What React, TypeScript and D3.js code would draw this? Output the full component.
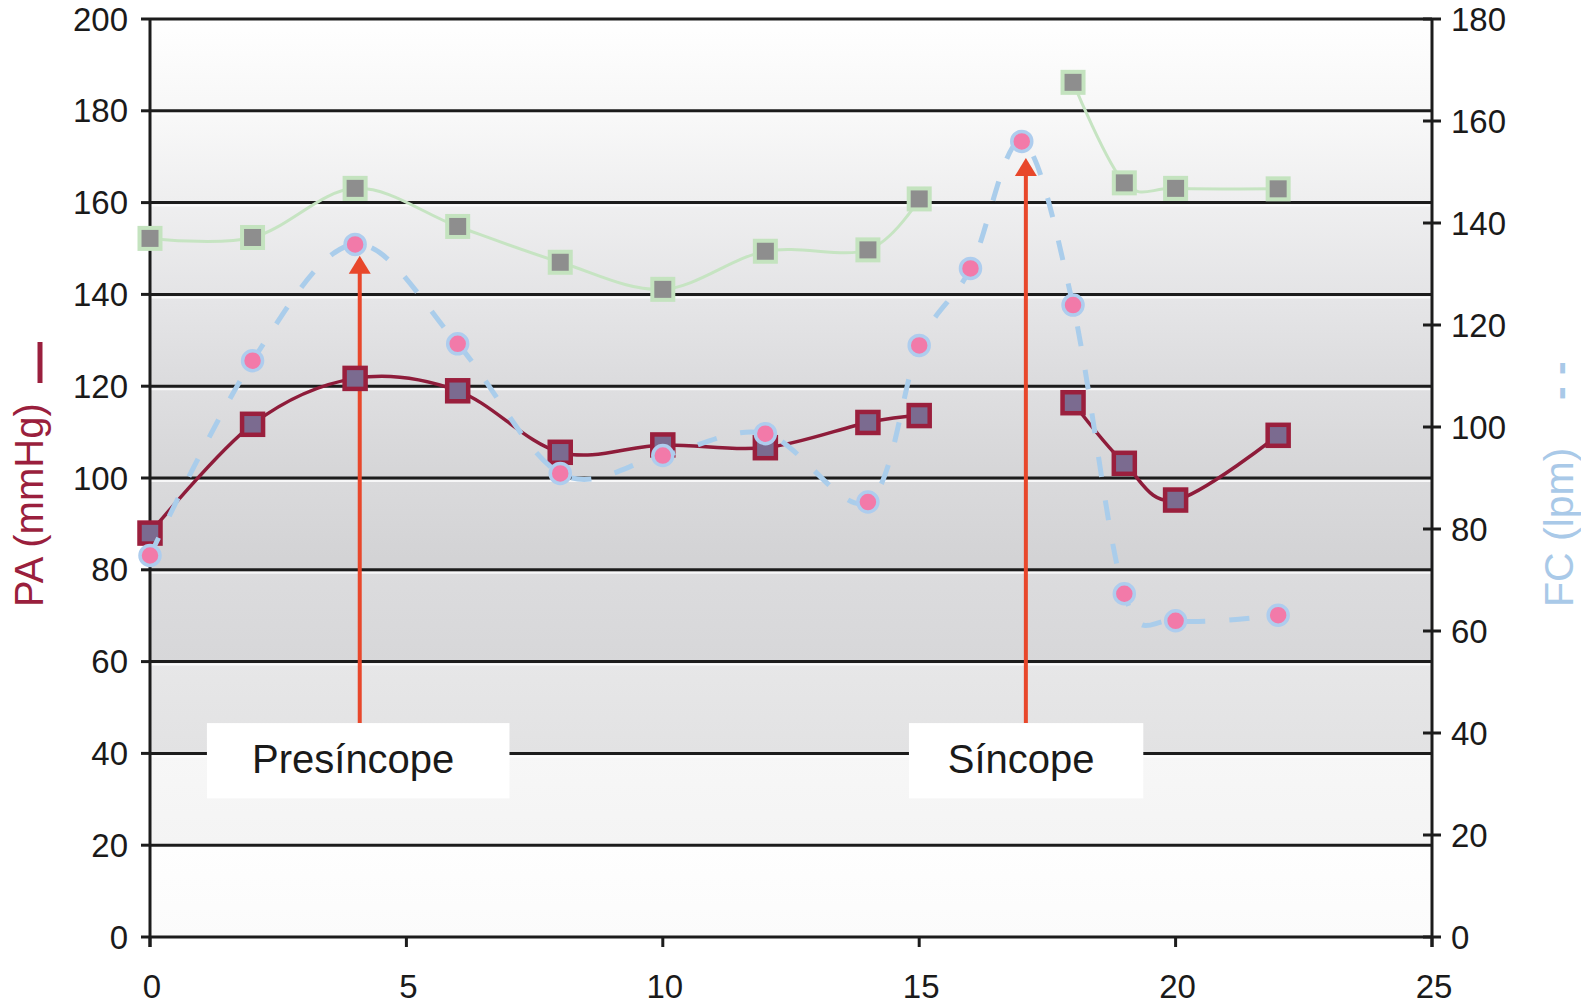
import * as d3 from "d3";

// tiempo (min) y series
const timePA = [0, 2, 4, 6, 8, 10, 12, 14, 15, 18, 19, 20, 22];
const paValues = [88, 111.7, 121.7, 119, 105.6, 107.2, 106.6, 112.1, 113.6, 116.4, 103.2, 95.2, 109.3];
const otherValues = [152.2, 152.4, 163.1, 154.8, 147, 141.1, 149.4, 149.7, 160.8, 186.2, 164.3, 163.1, 163];
const timeFC = [0, 2, 4, 6, 8, 10, 12, 14, 15, 16, 17, 18, 19, 20, 22];
const fcValues = [74.8, 113, 135.8, 116.3, 90.9, 94.4, 98.7, 85.3, 116, 131.1, 156, 123.9, 67.3, 62, 63.1];

const xTicks = [0, 5, 10, 15, 20, 25];
const leftTicks = [0, 20, 40, 60, 80, 100, 120, 140, 160, 180, 200];
const rightTicks = [0, 20, 40, 60, 80, 100, 120, 140, 160, 180];

// anotaciones: flecha en x, punta (valor PA), caja [x0, x1] y [y0, y1] en unidades de PA
const annotations = [
  { label: "Presíncope", x: 4.09, tip: 148.4, box: [1.11, 7.01], boxY: [46.6, 30.2] },
  { label: "Síncope", x: 17.08, tip: 169.7, box: [14.8, 19.37], boxY: [46.6, 30.2] },
];

// gris de cada franja (arriba, abajo), desde 200 hacia 0
const bandColors = [
  ["#ffffff", "#f7f7f7"],
  ["#f9f9f9", "#eeeeef"],
  ["#efeff0", "#e4e4e6"],
  ["#e6e6e8", "#dbdbdd"],
  ["#dfdfe1", "#d5d5d7"],
  ["#dadadc", "#d2d2d4"],
  ["#dcdcde", "#d7d7d9"],
  ["#e7e7e8", "#e2e2e3"],
  ["#f7f7f7", "#f4f4f4"],
  ["#fefefe", "#fbfbfb"],
];

const FONT = "'Liberation Sans', Arial, sans-serif";

function segments(times: number[], values: number[]) {
  const out: [number, number][][] = [];
  let cur: [number, number][] = [];
  times.forEach((t, i) => {
    if (i > 0 && t - times[i - 1] > 2) {
      out.push(cur);
      cur = [];
    }
    cur.push([t, values[i]]);
  });
  out.push(cur);
  return out;
}

export default function App() {
  const W = 1581;
  const H = 1006;
  const left = 150;
  const right = 1432;
  const top = 19;
  const bottom = 937;

  const x = d3.scaleLinear().domain([0, 25]).range([left, right]);
  const yL = d3.scaleLinear().domain([0, 200]).range([bottom, top]);
  const yR = d3.scaleLinear().domain([0, 180]).range([bottom, top]);

  const lineL = d3
    .line<[number, number]>()
    .x((d) => x(d[0]))
    .y((d) => yL(d[1]))
    .curve(d3.curveCardinal.tension(0));
  const lineR = d3
    .line<[number, number]>()
    .x((d) => x(d[0]))
    .y((d) => yR(d[1]))
    .curve(d3.curveCardinal.tension(0));

  const paSegs = segments(timePA, paValues);
  const otherSegs = segments(timePA, otherValues);
  const fcSegs = segments(timeFC, fcValues);

  const bands = d3.range(10).map((i) => ({
    y0: yL(200 - i * 20),
    y1: yL(180 - i * 20),
    c: bandColors[i],
  }));

  return (
    <div style={{ position: "absolute", left: 0, top: 0 }}>
      <svg width={W} height={H} style={{ display: "block", background: "#fff" }}>
        <defs>
          {bands.map((b, i) => (
            <linearGradient key={i} id={"band" + i} x1="0" y1="0" x2="0" y2="1">
              <stop offset="0%" stopColor={b.c[0]} />
              <stop offset="100%" stopColor={b.c[1]} />
            </linearGradient>
          ))}
        </defs>

        {/* fondo por franjas */}
        {bands.map((b, i) => (
          <g key={i}>
            <rect x={left} y={b.y0} width={right - left} height={b.y1 - b.y0} fill={`url(#band${i})`} />
            <line x1={left} x2={right} y1={b.y0 + 3} y2={b.y0 + 3} stroke="#fff" strokeWidth={2} opacity={0.8} />
          </g>
        ))}

        {/* líneas de cuadrícula */}
        {leftTicks.map((t) => (
          <line key={t} x1={left} x2={right} y1={yL(t)} y2={yL(t)} stroke="#1c1c1c" strokeWidth={3} />
        ))}

        {/* ejes */}
        <line x1={left} x2={left} y1={top} y2={bottom + 10} stroke="#1c1c1c" strokeWidth={3} />
        <line x1={right} x2={right} y1={top} y2={bottom + 10} stroke="#1c1c1c" strokeWidth={3} />
        {leftTicks.map((t) => (
          <g key={"l" + t}>
            <line x1={left - 9} x2={left} y1={yL(t)} y2={yL(t)} stroke="#1c1c1c" strokeWidth={3} />
            <text x={128} y={yL(t)} dy="0.35em" textAnchor="end" fontFamily={FONT} fontSize={33} fill="#1a1a1a">
              {t}
            </text>
          </g>
        ))}
        {rightTicks.map((t) => (
          <g key={"r" + t}>
            <line x1={right - 9} x2={right + 9} y1={yR(t)} y2={yR(t)} stroke="#1c1c1c" strokeWidth={3} />
            <text x={1451} y={yR(t)} dy="0.35em" textAnchor="start" fontFamily={FONT} fontSize={33} fill="#1a1a1a">
              {t}
            </text>
          </g>
        ))}
        {xTicks.map((t) => (
          <g key={"x" + t}>
            <line x1={x(t)} x2={x(t)} y1={bottom} y2={bottom + 10} stroke="#1c1c1c" strokeWidth={3} />
            <text x={x(t) + 2} y={998} textAnchor="middle" fontFamily={FONT} fontSize={33} fill="#1a1a1a">
              {t}
            </text>
          </g>
        ))}

        {/* anotaciones */}
        {annotations.map((a) => {
          const ax = x(a.x);
          const tipY = yL(a.tip);
          const bx0 = x(a.box[0]);
          const bx1 = x(a.box[1]);
          const by0 = yL(a.boxY[0]);
          const by1 = yL(a.boxY[1]);
          return (
            <g key={a.label}>
              <line x1={ax} x2={ax} y1={by0} y2={tipY + 16} stroke="#e8472b" strokeWidth={4} />
              <path d={`M${ax},${tipY} L${ax - 11},${tipY + 18} L${ax + 11},${tipY + 18} Z`} fill="#e8472b" />
              <rect x={bx0} y={by0} width={bx1 - bx0} height={by1 - by0} fill="#fff" />
              <text
                x={(bx0 + bx1) / 2 - 5}
                y={773}
                textAnchor="middle"
                fontFamily={FONT}
                fontSize={40}
                fill="#1a1a1a"
              >
                {a.label}
              </text>
            </g>
          );
        })}

        {/* serie gris/verde */}
        {otherSegs.map((s, i) => (
          <path key={"o" + i} d={lineL(s) || ""} fill="none" stroke="#c6e4c2" strokeWidth={3} />
        ))}
        {timePA.map((t, i) => (
          <rect
            key={"om" + i}
            x={x(t) - 10.5}
            y={yL(otherValues[i]) - 10.5}
            width={21}
            height={21}
            fill="#8e8e8e"
            stroke="#c4e3bf"
            strokeWidth={4}
          />
        ))}

        {/* PA */}
        {paSegs.map((s, i) => (
          <path key={"p" + i} d={lineL(s) || ""} fill="none" stroke="#8e1c3a" strokeWidth={3.5} />
        ))}
        {timePA.map((t, i) => (
          <rect
            key={"pm" + i}
            x={x(t) - 10.5}
            y={yL(paValues[i]) - 10.5}
            width={21}
            height={21}
            fill="#7b6b90"
            stroke="#9a1f3d"
            strokeWidth={4.5}
          />
        ))}

        {/* FC */}
        {fcSegs.map((s, i) => (
          <path
            key={"f" + i}
            d={lineR(s) || ""}
            fill="none"
            stroke="#aacdeb"
            strokeWidth={5}
            strokeDasharray="20 24"
          />
        ))}
        {timeFC.map((t, i) => (
          <circle key={"fm" + i} cx={x(t)} cy={yR(fcValues[i])} r={10} fill="#f27aa9" stroke="#aecdee" strokeWidth={3.5} />
        ))}

        {/* títulos de ejes */}
        <text
          transform={`translate(43,607) rotate(-90)`}
          fontFamily={FONT}
          fontSize={40}
          fill="#9a1f3d"
        >
          PA (mmHg)
        </text>
        <line x1={40} x2={40} y1={342} y2={383} stroke="#9a1f3d" strokeWidth={5} />
        <text
          transform={`translate(1573,607) rotate(-90)`}
          fontFamily={FONT}
          fontSize={41}
          fill="#a9c9e8"
        >
          FC (lpm)
        </text>
        <text
          transform={`translate(1573,400) rotate(-90)`}
          fontFamily={FONT}
          fontSize={41}
          fontWeight="bold"
          fill="#a9c9e8"
        >
          - -
        </text>
      </svg>
    </div>
  );
}
